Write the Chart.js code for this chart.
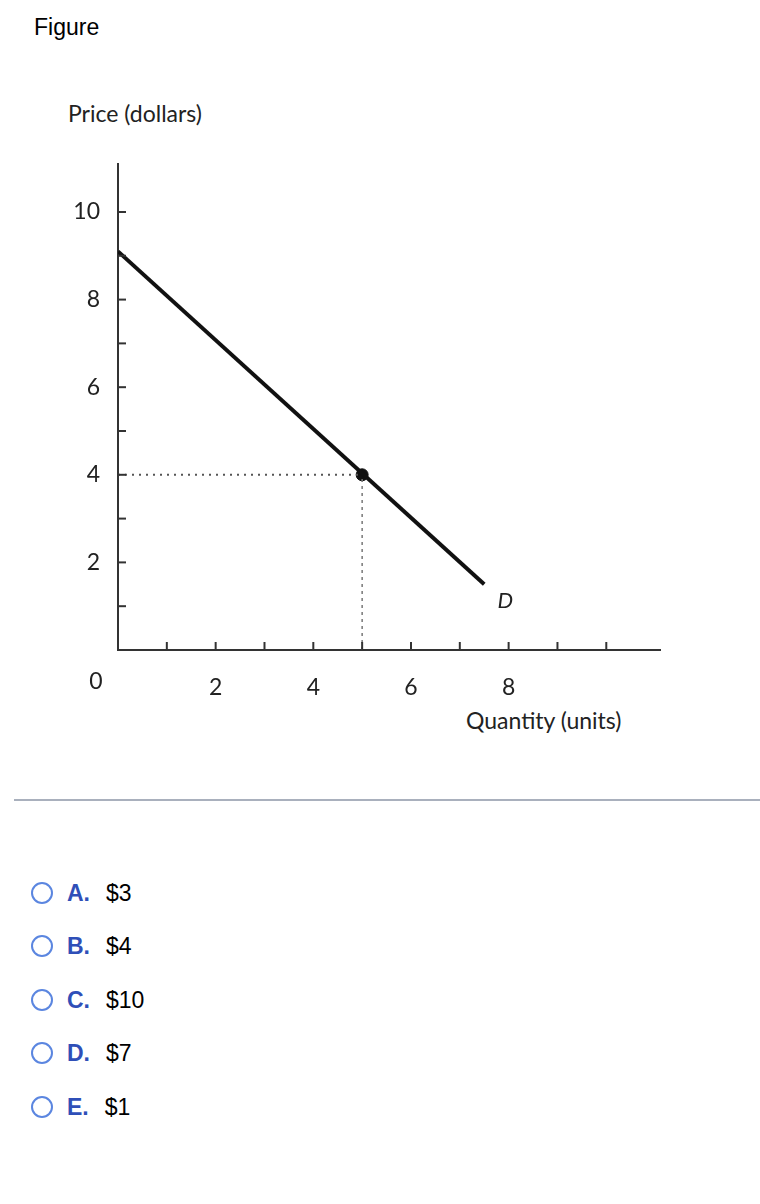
<!DOCTYPE html>
<html><head><meta charset="utf-8">
<script src="https://cdn.jsdelivr.net/npm/chart.js@4"></script>
<style>
body{margin:0;background:#fff;width:760px;height:1204px;position:relative;font-family:"Liberation Sans",Arial,sans-serif;}
.abs{position:absolute;}
#fig{left:34px;top:14px;font-size:23px;color:#000;}
#ptitle{left:68px;top:99px;font-size:23px;font-family:Lato,sans-serif;color:#222;}
#qtitle{left:466px;top:706px;font-size:23px;font-family:Lato,sans-serif;color:#222;}
#cw{left:0;top:140px;width:760px;height:620px;}
#hr{left:14px;top:799px;width:746px;height:2px;background:#a9b0bd;}
.opt{position:absolute;left:31px;height:28px;font-size:23px;display:flex;align-items:center;}
.opt .c{width:22px;height:22px;border:2px solid #5b86e0;border-radius:50%;margin-right:14px;box-sizing:border-box;}
.opt b{color:#2f4fb8;margin-right:16px;font-weight:bold;}
</style></head><body>
<div id="fig" class="abs">Figure</div>
<div id="ptitle" class="abs">Price (dollars)</div>
<div id="qtitle" class="abs">Quantity (units)</div>
<div id="cw" class="abs"><canvas id="c" width="760" height="620"></canvas></div>
<div id="hr" class="abs"></div>
<div id="opts"></div>
<script>
const demandQ=[0,7.5];
const demandP=[9.1,1.5];
const eqQ=5, eqP=4;
const xTickLabels=["2","4","6","8","10"];
const yTickLabels=["2","4","6","8","10"];
const options=[["A.","$3"],["B.","$4"],["C.","$10"],["D.","$7"],["E.","$1"]];
const optTops=[879,932,986,1039,1093];
const oc=document.getElementById('opts');
options.forEach((o,i)=>{const d=document.createElement('div');d.className='opt';d.style.top=optTops[i]+'px';d.innerHTML='<span class="c"></span><b>'+o[0]+'</b><span>'+o[1]+'</span>';oc.appendChild(d);});

const inTicks={id:'inTicks',afterDraw(ch){
  const c=ch.ctx,x=ch.scales.x,y=ch.scales.y;
  c.save();c.strokeStyle='#333';c.lineWidth=2;
  for(let v=1;v<=10;v++){const px=x.getPixelForValue(v);c.beginPath();c.moveTo(px,y.bottom);c.lineTo(px,y.bottom-8);c.stroke();}
  for(let v=1;v<=10;v++){const py=y.getPixelForValue(v);c.beginPath();c.moveTo(x.left,py);c.lineTo(x.left+8,py);c.stroke();}
  c.fillStyle='#222';c.font='23px Lato';c.textAlign='center';c.textBaseline='top';
  c.fillText('0',x.left-22,y.bottom+20);
  c.font='italic 22px Lato';
  c.fillText('D',x.getPixelForValue(demandQ[1])+21,y.getPixelForValue(demandP[1])+6);
  c.restore();
}};
new Chart(document.getElementById('c'),{
  type:'scatter',
  data:{datasets:[
    {data:demandQ.map((q,i)=>({x:q,y:demandP[i]})),showLine:true,borderColor:'#111',borderWidth:4,pointRadius:0},
    {data:[{x:0,y:eqP},{x:eqQ,y:eqP}],showLine:true,borderColor:'#555',borderWidth:2,borderDash:[2,5],pointRadius:0},
    {data:[{x:eqQ,y:0},{x:eqQ,y:eqP}],showLine:true,borderColor:'#777',borderWidth:1.5,borderDash:[3,4],pointRadius:0},
    {data:[{x:eqQ,y:eqP}],pointRadius:6,backgroundColor:'#111',borderColor:'#111'}
  ]},
  options:{responsive:false,animation:false,
    layout:{padding:{top:10,right:100,bottom:0,left:0}},
    plugins:{legend:{display:false},tooltip:{enabled:false}},
    scales:{
      x:{type:'linear',min:0,max:11.1,afterFit(s){s.height=110;},
        grid:{display:false},border:{color:'#333',width:2},
        ticks:{stepSize:2,autoSkip:false,padding:16,color:'#222',font:{family:'Lato',size:23},
          callback:(v)=>{const i=v/2-1;return Number.isInteger(i)&&i>=0&&i<xTickLabels.length?xTickLabels[i]:'';}}},
      y:{type:'linear',min:0,max:11.1,afterFit(s){s.width=118;},
        grid:{display:false},border:{color:'#333',width:2},
        ticks:{stepSize:2,autoSkip:false,padding:10,color:'#222',font:{family:'Lato',size:23},
          callback:(v)=>{const i=v/2-1;return Number.isInteger(i)&&i>=0&&i<yTickLabels.length?yTickLabels[i]:'';}}}
    }},
  plugins:[inTicks]
});
</script></body></html>
